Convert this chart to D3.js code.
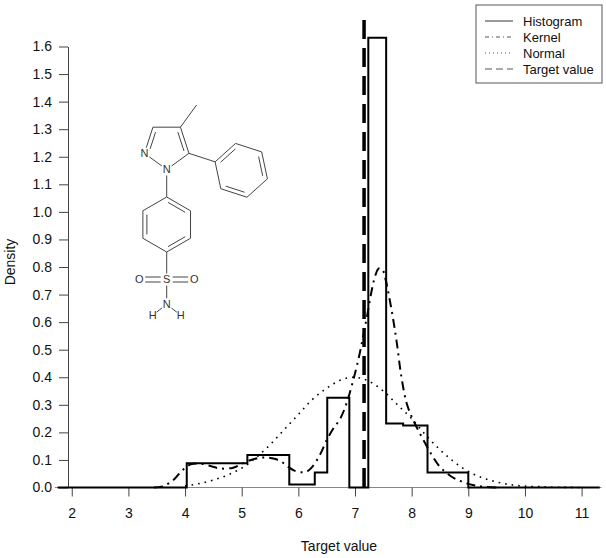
<!DOCTYPE html>
<html>
<head>
<meta charset="utf-8">
<script src="https://cdn.jsdelivr.net/npm/d3@7"></script>
<style>
    body { margin: 0; background: #fff; }
    svg { display: block; font-family: 'Liberation Sans', Arial, sans-serif; }
</style>
</head>
<body>
<div id="chart"></div>
<script>
// tick values
const xTicks = [2, 3, 4, 5, 6, 7, 8, 9, 10, 11];
const yTicks = [0.0, 0.1, 0.2, 0.3, 0.4, 0.5, 0.6, 0.7, 0.8, 0.9, 1.0, 1.1, 1.2, 1.3, 1.4, 1.5, 1.6];

// histogram (unequal bins), density per bin
const histEdges = [1.75, 4.03, 5.10, 5.84, 6.29, 6.51, 6.90, 7.235, 7.55, 7.85, 8.28, 9.00, 11.32];
const histDensity = [0, 0.088, 0.118, 0.011, 0.054, 0.326, 0, 1.632, 0.232, 0.225, 0.054, 0];

// kernel density estimate
const kernelX = [3.45, 3.6, 3.79, 3.95, 4.1, 4.26, 4.45, 4.62, 4.85, 5.0, 5.15, 5.3, 5.44, 5.58, 5.7, 5.82, 5.93, 6.06, 6.15, 6.25, 6.38, 6.5, 6.62, 6.74, 6.85, 6.95, 7.06, 7.15, 7.22, 7.30, 7.36, 7.42, 7.48, 7.54, 7.60, 7.67, 7.74, 7.82, 7.92, 8.05, 8.2, 8.35, 8.5, 8.7, 8.9, 9.1, 9.3, 9.55];
const kernelY = [0, 0.004, 0.026, 0.062, 0.084, 0.087, 0.078, 0.069, 0.072, 0.086, 0.099, 0.107, 0.109, 0.104, 0.094, 0.075, 0.061, 0.055, 0.058, 0.076, 0.118, 0.172, 0.215, 0.25, 0.305, 0.375, 0.465, 0.555, 0.63, 0.72, 0.77, 0.795, 0.792, 0.755, 0.695, 0.615, 0.522, 0.40, 0.30, 0.235, 0.175, 0.12, 0.075, 0.04, 0.02, 0.008, 0.002, 0];

// fitted normal curve
const normalX = [4.0, 4.25, 4.5, 4.75, 5.0, 5.25, 5.5, 5.75, 6.0, 6.25, 6.5, 6.75, 7.0, 7.25, 7.5, 7.75, 8.0, 8.25, 8.5, 8.75, 9.0, 9.25, 9.5, 9.75, 10.0, 10.25, 10.5, 10.75, 11.0];
const normalY = [0.006, 0.014, 0.027, 0.045, 0.07, 0.108, 0.155, 0.21, 0.265, 0.32, 0.36, 0.39, 0.40, 0.385, 0.35, 0.30, 0.25, 0.19, 0.137, 0.093, 0.058, 0.035, 0.02, 0.01, 0.005, 0.003, 0.001, 0.0005, 0];

const targetValue = 7.16;

const legendLabels = ['Histogram', 'Kernel', 'Normal', 'Target value'];
const legendDash = ['none', '4,3,1,3', '1,3', '7,4'];

const width = 606;
const height = 558;

const svg = d3.select('#chart').append('svg')
    .attr('width', width)
    .attr('height', height);

const x = d3.scaleLinear().domain([2, 11]).range([71.75, 581.6]);
const y = d3.scaleLinear().domain([0, 1.6]).range([487.5, 46.5]);

// baseline
svg.append('line')
    .attr('x1', x(1.7)).attr('x2', x(11.35))
    .attr('y1', y(0)).attr('y2', y(0))
    .attr('stroke', '#888')
    .attr('stroke-width', 1);

// y axis
const yAxis = svg.append('g')
    .attr('transform', 'translate(68,0)')
    .call(d3.axisLeft(y)
        .tickValues(yTicks)
        .tickFormat(d3.format('.1f'))
        .tickSize(9)
        .tickSizeOuter(0)
        .tickPadding(7));
yAxis.selectAll('path, line').attr('stroke', '#444');
yAxis.selectAll('text')
    .attr('font-size', '14px')
    .attr('font-family', "'Liberation Sans', Arial, sans-serif")
    .attr('fill', '#111');

// x axis
const xAxis = svg.append('g')
    .attr('transform', `translate(0,${y(0)})`)
    .call(d3.axisBottom(x)
        .tickValues(xTicks)
        .tickFormat(d3.format('d'))
        .tickSize(9)
        .tickPadding(12));
xAxis.select('.domain').remove();
xAxis.selectAll('line').attr('stroke', '#444');
xAxis.selectAll('text')
    .attr('font-size', '14px')
    .attr('font-family', "'Liberation Sans', Arial, sans-serif")
    .attr('fill', '#111');

// axis titles
svg.append('text')
    .attr('x', 339)
    .attr('y', 551)
    .attr('text-anchor', 'middle')
    .attr('font-size', '14px')
    .attr('fill', '#111')
    .text('Target value');

svg.append('text')
    .attr('transform', 'translate(15,262) rotate(-90)')
    .attr('text-anchor', 'middle')
    .attr('font-size', '14px')
    .attr('fill', '#111')
    .text('Density');

// histogram outline
const histPoints = histDensity.map((d, i) => [histEdges[i], d]);
histPoints.push([histEdges[histEdges.length - 1], histDensity[histDensity.length - 1]]);

svg.append('path')
    .datum(histPoints)
    .attr('d', d3.line()
        .x(d => x(d[0]))
        .y(d => y(d[1]))
        .curve(d3.curveStepAfter))
    .attr('fill', 'none')
    .attr('stroke', '#000')
    .attr('stroke-width', 2);

// kernel
svg.append('path')
    .datum(kernelX.map((v, i) => [v, kernelY[i]]))
    .attr('d', d3.line()
        .x(d => x(d[0]))
        .y(d => y(d[1]))
        .curve(d3.curveCatmullRom.alpha(0.5)))
    .attr('fill', 'none')
    .attr('stroke', '#000')
    .attr('stroke-width', 2)
    .attr('stroke-dasharray', '9,5,2,5');

// normal
svg.append('path')
    .datum(normalX.map((v, i) => [v, normalY[i]]))
    .attr('d', d3.line()
        .x(d => x(d[0]))
        .y(d => y(d[1]))
        .curve(d3.curveCatmullRom.alpha(0.5)))
    .attr('fill', 'none')
    .attr('stroke', '#000')
    .attr('stroke-width', 1.6)
    .attr('stroke-dasharray', '1.6,5');

// target value
svg.append('line')
    .attr('x1', x(targetValue)).attr('x2', x(targetValue))
    .attr('y1', 20).attr('y2', y(0))
    .attr('stroke', '#000')
    .attr('stroke-width', 3.5)
    .attr('stroke-dasharray', '19,9');

// legend
const legend = svg.append('g').attr('transform', 'translate(476,5)');
legend.append('rect')
    .attr('width', 126)
    .attr('height', 78)
    .attr('fill', '#fff')
    .attr('stroke', '#555')
    .attr('stroke-width', 1);

const items = legend.selectAll('g.item')
    .data(legendLabels)
    .enter()
    .append('g')
    .attr('transform', (d, i) => `translate(0,${16 + i * 16})`);

items.append('line')
    .attr('x1', 9).attr('x2', 37)
    .attr('stroke', '#555')
    .attr('stroke-width', 1.2)
    .attr('stroke-dasharray', (d, i) => legendDash[i]);

items.append('text')
    .attr('x', 47)
    .attr('dy', '0.35em')
    .attr('font-size', '13px')
    .attr('fill', '#111')
    .text(d => d);

// molecule (4-methyl-5-phenyl-1-(4-sulfamoylphenyl)pyrazole)
drawMolecule(svg.append('g'));

function drawMolecule(g) {
    const L = 27.5;
    const rad = a => a * Math.PI / 180;
    const ring = (cx, cy, r, angles) => angles.map(a => [cx + r * Math.cos(rad(a)), cy + r * Math.sin(rad(a))]);
    const step = (p, a, len) => [p[0] + len * Math.cos(rad(a)), p[1] + len * Math.sin(rad(a))];

    const bonds = [];
    const inner = [];
    const labels = [];

    // lower benzene
    const bc = [166.7, 224.5];
    const benz = ring(bc[0], bc[1], L, [-90, -30, 30, 90, 150, 210]);
    for (let i = 0; i < 6; i++) bonds.push([benz[i], benz[(i + 1) % 6]]);
    [0, 2, 4].forEach(i => inner.push([benz[i], benz[(i + 1) % 6], bc]));

    // pyrazole
    const n1 = step(benz[0], -90, L);
    const r5 = L / (2 * Math.sin(rad(36)));
    const pc = [n1[0], n1[1] - r5];
    const pyr = ring(pc[0], pc[1], r5, [90, 162, 234, 306, 18]);
    bonds.push([benz[0], n1, 0, 6]);
    bonds.push([pyr[0], pyr[1], 6, 6]);
    bonds.push([pyr[1], pyr[2], 6, 0]);
    bonds.push([pyr[2], pyr[3]]);
    bonds.push([pyr[3], pyr[4]]);
    bonds.push([pyr[4], pyr[0], 0, 6]);
    inner.push([pyr[1], pyr[2], pc, 6, 0]);
    inner.push([pyr[3], pyr[4], pc]);
    labels.push([pyr[0], 'N'], [pyr[1], 'N']);

    // methyl
    bonds.push([pyr[3], step(pyr[3], 306, L)]);

    // phenyl
    const ph0 = step(pyr[4], 18, L);
    const phc = step(ph0, 18, L);
    const ph = ring(phc[0], phc[1], L, [198, 258, 318, 18, 78, 138]);
    bonds.push([pyr[4], ph0]);
    for (let i = 0; i < 6; i++) bonds.push([ph[i], ph[(i + 1) % 6]]);
    [0, 2, 4].forEach(i => inner.push([ph[i], ph[(i + 1) % 6], phc]));

    // sulfonamide
    const s = step(benz[3], 90, L);
    const oL = step(s, 180, L);
    const oR = step(s, 0, L);
    const n = step(s, 90, L * 0.9);
    const hL = [n[0] - 14, n[1] + 11];
    const hR = [n[0] + 14, n[1] + 11];
    bonds.push([benz[3], s, 0, 6]);
    bonds.push([s, n, 6, 6]);
    bonds.push([n, hL, 6, 5]);
    bonds.push([n, hR, 6, 5]);
    [-2.5, 2.5].forEach(o => {
        bonds.push([[s[0], s[1] + o], [oL[0], oL[1] + o], 6, 6]);
        bonds.push([[s[0], s[1] + o], [oR[0], oR[1] + o], 6, 6]);
    });
    labels.push([s, 'S'], [oL, 'O'], [oR, 'O'], [n, 'N'], [hL, 'H'], [hR, 'H']);

    const trim = (a, b, ta, tb) => {
        const dx = b[0] - a[0], dy = b[1] - a[1];
        const len = Math.hypot(dx, dy);
        return [
            [a[0] + dx * ta / len, a[1] + dy * ta / len],
            [b[0] - dx * tb / len, b[1] - dy * tb / len]
        ];
    };

    const segs = bonds.map(b => trim(b[0], b[1], b[2] || 0, b[3] || 0));
    inner.forEach(b => {
        const a = b[0], c = b[1], ctr = b[2];
        const mx = (a[0] + c[0]) / 2, my = (a[1] + c[1]) / 2;
        const dx = ctr[0] - mx, dy = ctr[1] - my;
        const dl = Math.hypot(dx, dy);
        const off = 4;
        const p = [a[0] + dx / dl * off, a[1] + dy / dl * off];
        const q = [c[0] + dx / dl * off, c[1] + dy / dl * off];
        const len = Math.hypot(q[0] - p[0], q[1] - p[1]);
        segs.push(trim(p, q, Math.max(len * 0.14, b[3] || 0), Math.max(len * 0.14, b[4] || 0)));
    });

    g.selectAll('line')
        .data(segs)
        .enter()
        .append('line')
        .attr('x1', d => d[0][0])
        .attr('y1', d => d[0][1])
        .attr('x2', d => d[1][0])
        .attr('y2', d => d[1][1])
        .attr('stroke', '#444')
        .attr('stroke-width', 1);

    g.selectAll('text')
        .data(labels)
        .enter()
        .append('text')
        .attr('x', d => d[0][0])
        .attr('y', d => d[0][1])
        .attr('dy', '0.36em')
        .attr('text-anchor', 'middle')
        .attr('font-size', '11px')
        .attr('fill', '#333')
        .text(d => d[1]);
}
</script>
</body>
</html>
